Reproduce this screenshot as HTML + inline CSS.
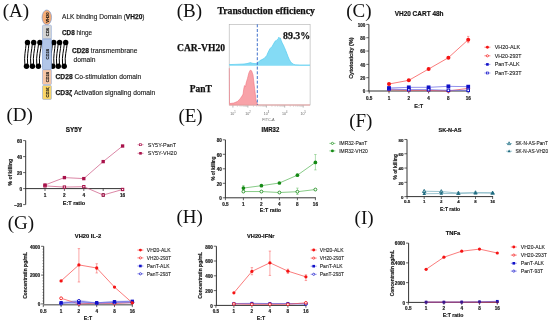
<!DOCTYPE html>
<html><head><meta charset="utf-8"><title>Figure</title>
<style>html,body{margin:0;padding:0;background:#fff;width:550px;height:322px;overflow:hidden}svg{display:block;filter:blur(0.25px)}</style>
</head><body>
<svg width="550" height="322" viewBox="0 0 550 322">
<rect width="550" height="322" fill="#fff"/>
<text x="2.7" y="17.3" font-family="'Liberation Serif', 'Times New Roman', serif" font-size="19" font-weight="normal" text-anchor="start" fill="#111" >(A)</text>
<text x="176.7" y="17" font-family="'Liberation Serif', 'Times New Roman', serif" font-size="19" font-weight="normal" text-anchor="start" fill="#111" >(B)</text>
<text x="346.2" y="17.2" font-family="'Liberation Serif', 'Times New Roman', serif" font-size="19" font-weight="normal" text-anchor="start" fill="#111" >(C)</text>
<text x="6.5" y="120.5" font-family="'Liberation Serif', 'Times New Roman', serif" font-size="19" font-weight="normal" text-anchor="start" fill="#111" >(D)</text>
<text x="178.39999999999998" y="121.9" font-family="'Liberation Serif', 'Times New Roman', serif" font-size="19" font-weight="normal" text-anchor="start" fill="#111" >(E)</text>
<text x="349.2" y="126.8" font-family="'Liberation Serif', 'Times New Roman', serif" font-size="19" font-weight="normal" text-anchor="start" fill="#111" >(F)</text>
<text x="7.8" y="228.6" font-family="'Liberation Serif', 'Times New Roman', serif" font-size="19" font-weight="normal" text-anchor="start" fill="#111" >(G)</text>
<text x="176.39999999999998" y="223.4" font-family="'Liberation Serif', 'Times New Roman', serif" font-size="19" font-weight="normal" text-anchor="start" fill="#111" >(H)</text>
<text x="354.59999999999997" y="223.6" font-family="'Liberation Serif', 'Times New Roman', serif" font-size="19" font-weight="normal" text-anchor="start" fill="#111" >(I)</text>
<path d="M26.10,44.0 C25.80,49.5 23.90,56.3 24.90,64.8" fill="none" stroke="#000" stroke-width="1.0"/>
<path d="M28.90,44.0 C28.60,49.5 26.70,56.3 27.70,64.8" fill="none" stroke="#000" stroke-width="1.0"/>
<path d="M32.30,44.0 C32.00,49.5 29.80,56.3 30.80,64.8" fill="none" stroke="#000" stroke-width="1.0"/>
<path d="M35.10,44.0 C34.80,49.5 32.60,56.3 33.60,64.8" fill="none" stroke="#000" stroke-width="1.0"/>
<path d="M38.50,44.0 C38.20,49.5 35.80,56.3 36.80,64.8" fill="none" stroke="#000" stroke-width="1.0"/>
<path d="M41.30,44.0 C41.00,49.5 38.60,56.3 39.60,64.8" fill="none" stroke="#000" stroke-width="1.0"/>
<path d="M52.40,44.0 C52.10,49.5 50.20,56.3 51.20,64.8" fill="none" stroke="#000" stroke-width="1.0"/>
<path d="M55.20,44.0 C54.90,49.5 53.00,56.3 54.00,64.8" fill="none" stroke="#000" stroke-width="1.0"/>
<path d="M58.20,44.0 C57.90,49.5 55.70,56.3 56.70,64.8" fill="none" stroke="#000" stroke-width="1.0"/>
<path d="M61.00,44.0 C60.70,49.5 58.50,56.3 59.50,64.8" fill="none" stroke="#000" stroke-width="1.0"/>
<path d="M64.30,44.0 C64.00,49.5 61.60,56.3 62.60,64.8" fill="none" stroke="#000" stroke-width="1.0"/>
<path d="M67.10,44.0 C66.80,49.5 64.40,56.3 65.40,64.8" fill="none" stroke="#000" stroke-width="1.0"/>
<circle cx="27.5" cy="42.5" r="2.7" fill="#000"/>
<circle cx="33.7" cy="42.5" r="2.7" fill="#000"/>
<circle cx="39.9" cy="42.5" r="2.7" fill="#000"/>
<circle cx="53.8" cy="42.5" r="2.7" fill="#000"/>
<circle cx="59.6" cy="42.5" r="2.7" fill="#000"/>
<circle cx="65.7" cy="42.5" r="2.7" fill="#000"/>
<circle cx="26.5" cy="66.3" r="2.7" fill="#000"/>
<circle cx="32.4" cy="66.3" r="2.7" fill="#000"/>
<circle cx="38.4" cy="66.3" r="2.7" fill="#000"/>
<circle cx="52.8" cy="66.3" r="2.7" fill="#000"/>
<circle cx="58.3" cy="66.3" r="2.7" fill="#000"/>
<circle cx="64.2" cy="66.3" r="2.7" fill="#000"/>
<ellipse cx="46.8" cy="17.4" rx="4.75" ry="7.4" fill="#F6AE78" stroke="#6F92D0" stroke-width="0.6"/>
<rect x="42.5" y="25.2" width="8.9" height="14" rx="1" fill="#D5D5D5" stroke="#8EA9D8" stroke-width="0.6"/>
<rect x="42.5" y="39" width="8.9" height="30.6" rx="0.8" fill="#B2C6E8" stroke="#7396D2" stroke-width="0.6"/>
<rect x="42.5" y="69.7" width="8.9" height="14.8" rx="1" fill="#F7C7A6" stroke="#8EA9D8" stroke-width="0.6"/>
<rect x="42.5" y="85.5" width="8.9" height="13.9" rx="1" fill="#FAD667" stroke="#8EA9D8" stroke-width="0.6"/>
<text transform="translate(47.1,17.6) rotate(-90)" font-family="'Liberation Sans', Arial, sans-serif" font-size="4.1" font-weight="bold" text-anchor="middle" dominant-baseline="central" fill="#111" stroke="#111" stroke-width="0.1">VH20</text>
<text transform="translate(47.1,32.2) rotate(-90)" font-family="'Liberation Sans', Arial, sans-serif" font-size="4.1" font-weight="bold" text-anchor="middle" dominant-baseline="central" fill="#111" stroke="#111" stroke-width="0.1">CD8</text>
<text transform="translate(47.1,54.3) rotate(-90)" font-family="'Liberation Sans', Arial, sans-serif" font-size="4.1" font-weight="bold" text-anchor="middle" dominant-baseline="central" fill="#111" stroke="#111" stroke-width="0.1">CD28</text>
<text transform="translate(47.1,77.1) rotate(-90)" font-family="'Liberation Sans', Arial, sans-serif" font-size="4.1" font-weight="bold" text-anchor="middle" dominant-baseline="central" fill="#111" stroke="#111" stroke-width="0.1">CD28</text>
<text transform="translate(47.1,92.4) rotate(-90)" font-family="'Liberation Sans', Arial, sans-serif" font-size="4.1" font-weight="bold" text-anchor="middle" dominant-baseline="central" fill="#111" stroke="#111" stroke-width="0.1">CD3ζ</text>
<text x="62" y="19.2" font-family="'Liberation Sans', Arial, sans-serif" font-size="7.3" font-weight="normal" text-anchor="start" fill="#151515" textLength="82.5" lengthAdjust="spacingAndGlyphs" stroke="#151515" stroke-width="0.12">ALK binding Domain (<tspan font-weight="bold" stroke="#111" stroke-width="0.25">VH20</tspan>)</text>
<text x="62" y="34.9" font-family="'Liberation Sans', Arial, sans-serif" font-size="7.3" font-weight="normal" text-anchor="start" fill="#151515" textLength="30" lengthAdjust="spacingAndGlyphs" stroke="#151515" stroke-width="0.12"><tspan font-weight="bold" stroke="#111" stroke-width="0.25">CD8</tspan> hinge</text>
<text x="72" y="53.4" font-family="'Liberation Sans', Arial, sans-serif" font-size="7.3" font-weight="normal" text-anchor="start" fill="#151515" textLength="65.5" lengthAdjust="spacingAndGlyphs" stroke="#151515" stroke-width="0.12"><tspan font-weight="bold" stroke="#111" stroke-width="0.25">CD28</tspan> transmembrane</text>
<text x="73.5" y="62.2" font-family="'Liberation Sans', Arial, sans-serif" font-size="7.3" font-weight="normal" text-anchor="start" fill="#151515" textLength="22" lengthAdjust="spacingAndGlyphs" stroke="#151515" stroke-width="0.12">domain</text>
<text x="55.5" y="78.5" font-family="'Liberation Sans', Arial, sans-serif" font-size="7.3" font-weight="normal" text-anchor="start" fill="#151515" textLength="85.7" lengthAdjust="spacingAndGlyphs" stroke="#151515" stroke-width="0.12"><tspan font-weight="bold" stroke="#111" stroke-width="0.25">CD28</tspan> Co-stimulation domain</text>
<text x="55.5" y="94.9" font-family="'Liberation Sans', Arial, sans-serif" font-size="7.3" font-weight="normal" text-anchor="start" fill="#151515" textLength="99.7" lengthAdjust="spacingAndGlyphs" stroke="#151515" stroke-width="0.12"><tspan font-weight="bold" stroke="#111" stroke-width="0.25">CD3ζ</tspan> Activation signaling domain</text>
<text x="217.5" y="14.2" font-family="'Liberation Serif', 'Times New Roman', serif" font-size="10.5" font-weight="bold" text-anchor="start" fill="#111" textLength="97.4" lengthAdjust="spacingAndGlyphs" stroke="#111" stroke-width="0.25">Transduction efficiency</text>
<text x="177" y="51.4" font-family="'Liberation Serif', 'Times New Roman', serif" font-size="10.1" font-weight="bold" text-anchor="start" fill="#111" textLength="48" lengthAdjust="spacingAndGlyphs" stroke="#111" stroke-width="0.25">CAR-VH20</text>
<text x="189.8" y="91.6" font-family="'Liberation Serif', 'Times New Roman', serif" font-size="10.1" font-weight="bold" text-anchor="start" fill="#111" textLength="22.1" lengthAdjust="spacingAndGlyphs" stroke="#111" stroke-width="0.25">PanT</text>
<rect x="229.2" y="24.3" width="80.9" height="80.7" fill="none" stroke="#b0b0b0" stroke-width="0.6"/>
<path d="M229.2,64.6 L235,64.4 L240,64.2 L244,64.0 L247,63.6 L249,63.0 L250.5,62.6 L252,63.2 L254,63.5 L256.8,63.7 L259.7,60.7 L262,59.6 L264.4,58.3 L265.6,56.8 L266.8,55.4 L268,52.5 L269.8,48.9 L271,47.6 L272.1,46.5 L273.5,44 L275.1,41.2 L276.3,40.5 L277.4,39.4 L278.3,38.6 L278.8,37.2 L279.5,38.2 L280.4,38.1 L281.2,40.5 L282.2,43 L283.4,45.2 L284.5,47.7 L285.7,50.5 L286.9,53.6 L288.1,56.8 L289.3,59.5 L290.5,61.6 L291.6,63 L293.4,64.2 L295.2,64.8 L300,65.0 L310,65.0 L310,65.7 L229.2,65.7 Z" fill="#84DBF5"/>
<polyline points="229.2,64.6 235,64.4 240,64.2 244,64.0 247,63.6 249,63.0 250.5,62.6 252,63.2 254,63.5 256.8,63.7 259.7,60.7 262,59.6 264.4,58.3 265.6,56.8 266.8,55.4 268,52.5 269.8,48.9 271,47.6 272.1,46.5 273.5,44 275.1,41.2 276.3,40.5 277.4,39.4 278.3,38.6 278.8,37.2 279.5,38.2 280.4,38.1 281.2,40.5 282.2,43 283.4,45.2 284.5,47.7 285.7,50.5 286.9,53.6 288.1,56.8 289.3,59.5 290.5,61.6 291.6,63 293.4,64.2 295.2,64.8 300,65.0 310,65.0" fill="none" stroke="#55CBEF" stroke-width="0.7"/>
<path d="M229.3,68.2 L229.5,103.6 L233.8,103 L237.3,101.6 L240,98.9 L242,96.1 L243.1,94.1 L243.7,89.3 L244.5,85.6 L245.5,86.6 L246.1,83.1 L247.5,78.4 L248.9,72.9 L250.2,70.2 L251.6,70.8 L253,74.9 L254.3,85.9 L255.3,94.1 L256,100.2 L257.1,103.6 L258.4,104.7 L229.3,104.9 Z" fill="#F8A2A8"/>
<polyline points="229.3,68.2 229.5,103.6 233.8,103 237.3,101.6 240,98.9 242,96.1 243.1,94.1 243.7,89.3 244.5,85.6 245.5,86.6 246.1,83.1 247.5,78.4 248.9,72.9 250.2,70.2 251.6,70.8 253,74.9 254.3,85.9 255.3,94.1 256,100.2 257.1,103.6 258.4,104.7" fill="none" stroke="#F07480" stroke-width="0.6"/>
<line x1="229.20" y1="105.00" x2="310.00" y2="105.00" stroke="#E88C8C" stroke-width="0.8" />
<line x1="257.30" y1="24.30" x2="257.30" y2="105.00" stroke="#3568C8" stroke-width="0.95" stroke-dasharray="3,1.7"/>
<text x="283.0" y="38.8" font-family="'Liberation Serif', 'Times New Roman', serif" font-size="10.2" font-weight="bold" text-anchor="start" fill="#111" textLength="27.2" lengthAdjust="spacingAndGlyphs" stroke="#111" stroke-width="0.25">89.3%</text>
<line x1="232.90" y1="105.60" x2="232.90" y2="107.60" stroke="#777" stroke-width="0.5" />
<text x="232.9" y="114.6" font-family="'Liberation Sans', Arial, sans-serif" font-size="3.6" text-anchor="middle" fill="#666">10<tspan font-size="2.6" dy="-1.6">1</tspan></text>
<line x1="247.90" y1="105.60" x2="247.90" y2="107.60" stroke="#777" stroke-width="0.5" />
<text x="247.9" y="114.6" font-family="'Liberation Sans', Arial, sans-serif" font-size="3.6" text-anchor="middle" fill="#666">10<tspan font-size="2.6" dy="-1.6">2</tspan></text>
<line x1="266.40" y1="105.60" x2="266.40" y2="107.60" stroke="#777" stroke-width="0.5" />
<text x="266.4" y="114.6" font-family="'Liberation Sans', Arial, sans-serif" font-size="3.6" text-anchor="middle" fill="#666">10<tspan font-size="2.6" dy="-1.6">3</tspan></text>
<line x1="284.70" y1="105.60" x2="284.70" y2="107.60" stroke="#777" stroke-width="0.5" />
<text x="284.7" y="114.6" font-family="'Liberation Sans', Arial, sans-serif" font-size="3.6" text-anchor="middle" fill="#666">10<tspan font-size="2.6" dy="-1.6">4</tspan></text>
<line x1="303.20" y1="105.60" x2="303.20" y2="107.60" stroke="#777" stroke-width="0.5" />
<text x="303.2" y="114.6" font-family="'Liberation Sans', Arial, sans-serif" font-size="3.6" text-anchor="middle" fill="#666">10<tspan font-size="2.6" dy="-1.6">5</tspan></text>
<line x1="237.42" y1="105.60" x2="237.42" y2="106.80" stroke="#999" stroke-width="0.35" />
<line x1="240.06" y1="105.60" x2="240.06" y2="106.80" stroke="#999" stroke-width="0.35" />
<line x1="241.93" y1="105.60" x2="241.93" y2="106.80" stroke="#999" stroke-width="0.35" />
<line x1="243.38" y1="105.60" x2="243.38" y2="106.80" stroke="#999" stroke-width="0.35" />
<line x1="244.57" y1="105.60" x2="244.57" y2="106.80" stroke="#999" stroke-width="0.35" />
<line x1="245.58" y1="105.60" x2="245.58" y2="106.80" stroke="#999" stroke-width="0.35" />
<line x1="246.45" y1="105.60" x2="246.45" y2="106.80" stroke="#999" stroke-width="0.35" />
<line x1="247.21" y1="105.60" x2="247.21" y2="106.80" stroke="#999" stroke-width="0.35" />
<line x1="253.47" y1="105.60" x2="253.47" y2="106.80" stroke="#999" stroke-width="0.35" />
<line x1="256.73" y1="105.60" x2="256.73" y2="106.80" stroke="#999" stroke-width="0.35" />
<line x1="259.04" y1="105.60" x2="259.04" y2="106.80" stroke="#999" stroke-width="0.35" />
<line x1="260.83" y1="105.60" x2="260.83" y2="106.80" stroke="#999" stroke-width="0.35" />
<line x1="262.30" y1="105.60" x2="262.30" y2="106.80" stroke="#999" stroke-width="0.35" />
<line x1="263.53" y1="105.60" x2="263.53" y2="106.80" stroke="#999" stroke-width="0.35" />
<line x1="264.61" y1="105.60" x2="264.61" y2="106.80" stroke="#999" stroke-width="0.35" />
<line x1="265.55" y1="105.60" x2="265.55" y2="106.80" stroke="#999" stroke-width="0.35" />
<line x1="271.91" y1="105.60" x2="271.91" y2="106.80" stroke="#999" stroke-width="0.35" />
<line x1="275.13" y1="105.60" x2="275.13" y2="106.80" stroke="#999" stroke-width="0.35" />
<line x1="277.42" y1="105.60" x2="277.42" y2="106.80" stroke="#999" stroke-width="0.35" />
<line x1="279.19" y1="105.60" x2="279.19" y2="106.80" stroke="#999" stroke-width="0.35" />
<line x1="280.64" y1="105.60" x2="280.64" y2="106.80" stroke="#999" stroke-width="0.35" />
<line x1="281.87" y1="105.60" x2="281.87" y2="106.80" stroke="#999" stroke-width="0.35" />
<line x1="282.93" y1="105.60" x2="282.93" y2="106.80" stroke="#999" stroke-width="0.35" />
<line x1="283.86" y1="105.60" x2="283.86" y2="106.80" stroke="#999" stroke-width="0.35" />
<line x1="290.27" y1="105.60" x2="290.27" y2="106.80" stroke="#999" stroke-width="0.35" />
<line x1="293.53" y1="105.60" x2="293.53" y2="106.80" stroke="#999" stroke-width="0.35" />
<line x1="295.84" y1="105.60" x2="295.84" y2="106.80" stroke="#999" stroke-width="0.35" />
<line x1="297.63" y1="105.60" x2="297.63" y2="106.80" stroke="#999" stroke-width="0.35" />
<line x1="299.10" y1="105.60" x2="299.10" y2="106.80" stroke="#999" stroke-width="0.35" />
<line x1="300.33" y1="105.60" x2="300.33" y2="106.80" stroke="#999" stroke-width="0.35" />
<line x1="301.41" y1="105.60" x2="301.41" y2="106.80" stroke="#999" stroke-width="0.35" />
<line x1="302.35" y1="105.60" x2="302.35" y2="106.80" stroke="#999" stroke-width="0.35" />
<text x="268.4" y="121.3" font-family="'Liberation Sans', Arial, sans-serif" font-size="3.8" font-weight="normal" text-anchor="middle" fill="#666" >FITC-A</text>
<text x="394.65" y="16.2" font-family="'Liberation Sans', Arial, sans-serif" font-size="6.7" font-weight="bold" text-anchor="start" fill="#111" textLength="48.9" lengthAdjust="spacingAndGlyphs"  stroke="#111" stroke-width="0.18">VH20 CART 48h</text>
<line x1="368.90" y1="24.40" x2="368.90" y2="91.00" stroke="#333" stroke-width="1.0" />
<line x1="366.30" y1="91.00" x2="368.90" y2="91.00" stroke="#333" stroke-width="0.75" />
<text x="365.4" y="93.35600000000001" font-family="'Liberation Sans', Arial, sans-serif" font-size="4.6" font-weight="bold" text-anchor="end" fill="#1a1a1a"  stroke="#1a1a1a" stroke-width="0.18">0</text>
<line x1="366.30" y1="77.68" x2="368.90" y2="77.68" stroke="#333" stroke-width="0.75" />
<text x="365.4" y="80.03600000000002" font-family="'Liberation Sans', Arial, sans-serif" font-size="4.6" font-weight="bold" text-anchor="end" fill="#1a1a1a"  stroke="#1a1a1a" stroke-width="0.18">20</text>
<line x1="366.30" y1="64.36" x2="368.90" y2="64.36" stroke="#333" stroke-width="0.75" />
<text x="365.4" y="66.71600000000001" font-family="'Liberation Sans', Arial, sans-serif" font-size="4.6" font-weight="bold" text-anchor="end" fill="#1a1a1a"  stroke="#1a1a1a" stroke-width="0.18">40</text>
<line x1="366.30" y1="51.04" x2="368.90" y2="51.04" stroke="#333" stroke-width="0.75" />
<text x="365.4" y="53.396" font-family="'Liberation Sans', Arial, sans-serif" font-size="4.6" font-weight="bold" text-anchor="end" fill="#1a1a1a"  stroke="#1a1a1a" stroke-width="0.18">60</text>
<line x1="366.30" y1="37.72" x2="368.90" y2="37.72" stroke="#333" stroke-width="0.75" />
<text x="365.4" y="40.076" font-family="'Liberation Sans', Arial, sans-serif" font-size="4.6" font-weight="bold" text-anchor="end" fill="#1a1a1a"  stroke="#1a1a1a" stroke-width="0.18">80</text>
<line x1="366.30" y1="24.40" x2="368.90" y2="24.40" stroke="#333" stroke-width="0.75" />
<text x="365.4" y="26.75599999999999" font-family="'Liberation Sans', Arial, sans-serif" font-size="4.6" font-weight="bold" text-anchor="end" fill="#1a1a1a"  stroke="#1a1a1a" stroke-width="0.18">100</text>
<line x1="368.40" y1="91.00" x2="468.70" y2="91.00" stroke="#333" stroke-width="1.0" />
<line x1="369.20" y1="91.00" x2="369.20" y2="93.40" stroke="#333" stroke-width="0.75" />
<text x="369.2" y="99.8" font-family="'Liberation Sans', Arial, sans-serif" font-size="4.6" font-weight="bold" text-anchor="middle" fill="#1a1a1a"  stroke="#1a1a1a" stroke-width="0.18">0.5</text>
<line x1="389.00" y1="91.00" x2="389.00" y2="93.40" stroke="#333" stroke-width="0.75" />
<text x="389.0" y="99.8" font-family="'Liberation Sans', Arial, sans-serif" font-size="4.6" font-weight="bold" text-anchor="middle" fill="#1a1a1a"  stroke="#1a1a1a" stroke-width="0.18">1</text>
<line x1="408.80" y1="91.00" x2="408.80" y2="93.40" stroke="#333" stroke-width="0.75" />
<text x="408.8" y="99.8" font-family="'Liberation Sans', Arial, sans-serif" font-size="4.6" font-weight="bold" text-anchor="middle" fill="#1a1a1a"  stroke="#1a1a1a" stroke-width="0.18">2</text>
<line x1="428.60" y1="91.00" x2="428.60" y2="93.40" stroke="#333" stroke-width="0.75" />
<text x="428.6" y="99.8" font-family="'Liberation Sans', Arial, sans-serif" font-size="4.6" font-weight="bold" text-anchor="middle" fill="#1a1a1a"  stroke="#1a1a1a" stroke-width="0.18">4</text>
<line x1="448.40" y1="91.00" x2="448.40" y2="93.40" stroke="#333" stroke-width="0.75" />
<text x="448.4" y="99.8" font-family="'Liberation Sans', Arial, sans-serif" font-size="4.6" font-weight="bold" text-anchor="middle" fill="#1a1a1a"  stroke="#1a1a1a" stroke-width="0.18">8</text>
<line x1="468.20" y1="91.00" x2="468.20" y2="93.40" stroke="#333" stroke-width="0.75" />
<text x="468.2" y="99.8" font-family="'Liberation Sans', Arial, sans-serif" font-size="4.6" font-weight="bold" text-anchor="middle" fill="#1a1a1a"  stroke="#1a1a1a" stroke-width="0.18">16</text>
<text transform="translate(351.3,58.1) rotate(-90)" x="0" y="0" font-family="'Liberation Sans', Arial, sans-serif" font-size="5.2" font-weight="bold" text-anchor="middle" dominant-baseline="central" fill="#1a1a1a" textLength="41.5" lengthAdjust="spacingAndGlyphs" stroke="#1a1a1a" stroke-width="0.18">Cytotoxicity (%)</text>
<text x="414.35" y="107.5" font-family="'Liberation Sans', Arial, sans-serif" font-size="6.0" font-weight="bold" text-anchor="start" fill="#1a1a1a" textLength="8.9" lengthAdjust="spacingAndGlyphs"  stroke="#1a1a1a" stroke-width="0.18">E:T</text>
<polyline points="389.00,89.67 408.80,90.33 428.60,90.33 448.40,91.00 468.20,88.34" fill="none" stroke="#F85050" stroke-width="0.75"/>
<circle cx="389.00" cy="89.67" r="1.43" fill="white" stroke="#F51414" stroke-width="0.85"/>
<circle cx="408.80" cy="90.33" r="1.43" fill="white" stroke="#F51414" stroke-width="0.85"/>
<circle cx="428.60" cy="90.33" r="1.43" fill="white" stroke="#F51414" stroke-width="0.85"/>
<circle cx="448.40" cy="91.00" r="1.43" fill="white" stroke="#F51414" stroke-width="0.85"/>
<circle cx="468.20" cy="88.34" r="1.43" fill="white" stroke="#F51414" stroke-width="0.85"/>
<polyline points="389.00,89.00 408.80,89.67 428.60,89.67 448.40,90.33 468.20,90.33" fill="none" stroke="#6B6BE6" stroke-width="0.75"/>
<rect x="387.70" y="87.70" width="2.60" height="2.60" fill="white" stroke="#1010C8" stroke-width="1.0"/>
<rect x="407.50" y="88.37" width="2.60" height="2.60" fill="white" stroke="#1010C8" stroke-width="1.0"/>
<rect x="427.30" y="88.37" width="2.60" height="2.60" fill="white" stroke="#1010C8" stroke-width="1.0"/>
<rect x="447.10" y="89.03" width="2.60" height="2.60" fill="white" stroke="#1010C8" stroke-width="1.0"/>
<rect x="466.90" y="89.03" width="2.60" height="2.60" fill="white" stroke="#1010C8" stroke-width="1.0"/>
<polyline points="389.00,88.00 408.80,87.34 428.60,87.34 448.40,86.34 468.20,86.67" fill="none" stroke="#6B6BE6" stroke-width="0.75"/>
<rect x="387.11" y="86.11" width="3.78" height="3.78" fill="#1010C8"/>
<rect x="406.91" y="85.45" width="3.78" height="3.78" fill="#1010C8"/>
<rect x="426.71" y="85.45" width="3.78" height="3.78" fill="#1010C8"/>
<rect x="446.51" y="84.45" width="3.78" height="3.78" fill="#1010C8"/>
<rect x="466.31" y="84.78" width="3.78" height="3.78" fill="#1010C8"/>
<polyline points="389.00,84.01 408.80,80.34 428.60,69.02 448.40,57.70 468.20,39.72" fill="none" stroke="#F85050" stroke-width="0.75"/>
<line x1="468.20" y1="42.71" x2="468.20" y2="36.39" stroke="#F85050" stroke-width="0.5" />
<line x1="467.00" y1="42.71" x2="469.40" y2="42.71" stroke="#F85050" stroke-width="0.5" />
<line x1="467.00" y1="36.39" x2="469.40" y2="36.39" stroke="#F85050" stroke-width="0.5" />
<circle cx="389.00" cy="84.01" r="2.00" fill="#F51414" stroke="#F51414" stroke-width="0"/>
<circle cx="408.80" cy="80.34" r="2.00" fill="#F51414" stroke="#F51414" stroke-width="0"/>
<circle cx="428.60" cy="69.02" r="2.00" fill="#F51414" stroke="#F51414" stroke-width="0"/>
<circle cx="448.40" cy="57.70" r="2.00" fill="#F51414" stroke="#F51414" stroke-width="0"/>
<circle cx="468.20" cy="39.72" r="2.00" fill="#F51414" stroke="#F51414" stroke-width="0"/>
<line x1="484.40" y1="47.20" x2="490.40" y2="47.20" stroke="#F85050" stroke-width="0.7" />
<circle cx="487.40" cy="47.20" r="1.45" fill="#F51414" stroke="#F51414" stroke-width="0"/>
<text x="494.7" y="49.14" font-family="'Liberation Sans', Arial, sans-serif" font-size="5.4" font-weight="normal" text-anchor="start" fill="#1c1c1c" textLength="25.5" lengthAdjust="spacingAndGlyphs" stroke="#1c1c1c" stroke-width="0.1">VH20-ALK</text>
<line x1="484.40" y1="55.80" x2="490.40" y2="55.80" stroke="#F85050" stroke-width="0.7" />
<circle cx="487.40" cy="55.80" r="1.10" fill="white" stroke="#F51414" stroke-width="0.7"/>
<text x="494.7" y="57.74" font-family="'Liberation Sans', Arial, sans-serif" font-size="5.4" font-weight="normal" text-anchor="start" fill="#1c1c1c" textLength="26.8" lengthAdjust="spacingAndGlyphs" stroke="#1c1c1c" stroke-width="0.1">VH20-293T</text>
<line x1="484.40" y1="64.40" x2="490.40" y2="64.40" stroke="#6B6BE6" stroke-width="0.7" />
<rect x="486.09" y="63.10" width="2.61" height="2.61" fill="#1010C8"/>
<text x="494.7" y="66.34" font-family="'Liberation Sans', Arial, sans-serif" font-size="5.4" font-weight="normal" text-anchor="start" fill="#1c1c1c" textLength="24.9" lengthAdjust="spacingAndGlyphs" stroke="#1c1c1c" stroke-width="0.1">PanT-ALK</text>
<line x1="484.40" y1="73.00" x2="490.40" y2="73.00" stroke="#6B6BE6" stroke-width="0.7" />
<rect x="486.44" y="72.05" width="1.91" height="1.91" fill="white" stroke="#1010C8" stroke-width="0.7"/>
<text x="494.7" y="74.94" font-family="'Liberation Sans', Arial, sans-serif" font-size="5.4" font-weight="normal" text-anchor="start" fill="#1c1c1c" textLength="26.8" lengthAdjust="spacingAndGlyphs" stroke="#1c1c1c" stroke-width="0.1">PanT-293T</text>
<text x="65.65" y="132.0" font-family="'Liberation Sans', Arial, sans-serif" font-size="7.1" font-weight="bold" text-anchor="start" fill="#111" textLength="16.5" lengthAdjust="spacingAndGlyphs"  stroke="#111" stroke-width="0.18">SY5Y</text>
<line x1="25.70" y1="140.60" x2="25.70" y2="204.60" stroke="#333" stroke-width="1.0" />
<line x1="23.10" y1="204.60" x2="25.70" y2="204.60" stroke="#333" stroke-width="0.75" />
<text x="22.2" y="206.992" font-family="'Liberation Sans', Arial, sans-serif" font-size="4.7" font-weight="bold" text-anchor="end" fill="#1a1a1a"  stroke="#1a1a1a" stroke-width="0.18">−20</text>
<line x1="23.10" y1="188.60" x2="25.70" y2="188.60" stroke="#333" stroke-width="0.75" />
<text x="22.2" y="190.992" font-family="'Liberation Sans', Arial, sans-serif" font-size="4.7" font-weight="bold" text-anchor="end" fill="#1a1a1a"  stroke="#1a1a1a" stroke-width="0.18">0</text>
<line x1="23.10" y1="172.60" x2="25.70" y2="172.60" stroke="#333" stroke-width="0.75" />
<text x="22.2" y="174.992" font-family="'Liberation Sans', Arial, sans-serif" font-size="4.7" font-weight="bold" text-anchor="end" fill="#1a1a1a"  stroke="#1a1a1a" stroke-width="0.18">20</text>
<line x1="23.10" y1="156.60" x2="25.70" y2="156.60" stroke="#333" stroke-width="0.75" />
<text x="22.2" y="158.992" font-family="'Liberation Sans', Arial, sans-serif" font-size="4.7" font-weight="bold" text-anchor="end" fill="#1a1a1a"  stroke="#1a1a1a" stroke-width="0.18">40</text>
<line x1="23.10" y1="140.60" x2="25.70" y2="140.60" stroke="#333" stroke-width="0.75" />
<text x="22.2" y="142.992" font-family="'Liberation Sans', Arial, sans-serif" font-size="4.7" font-weight="bold" text-anchor="end" fill="#1a1a1a"  stroke="#1a1a1a" stroke-width="0.18">60</text>
<line x1="25.20" y1="188.60" x2="123.10" y2="188.60" stroke="#333" stroke-width="1.0" />
<line x1="45.00" y1="188.60" x2="45.00" y2="191.00" stroke="#333" stroke-width="0.75" />
<text x="45.0" y="197.2" font-family="'Liberation Sans', Arial, sans-serif" font-size="4.7" font-weight="bold" text-anchor="middle" fill="#1a1a1a"  stroke="#1a1a1a" stroke-width="0.18">1</text>
<line x1="64.40" y1="188.60" x2="64.40" y2="191.00" stroke="#333" stroke-width="0.75" />
<text x="64.4" y="197.2" font-family="'Liberation Sans', Arial, sans-serif" font-size="4.7" font-weight="bold" text-anchor="middle" fill="#1a1a1a"  stroke="#1a1a1a" stroke-width="0.18">2</text>
<line x1="83.80" y1="188.60" x2="83.80" y2="191.00" stroke="#333" stroke-width="0.75" />
<text x="83.8" y="197.2" font-family="'Liberation Sans', Arial, sans-serif" font-size="4.7" font-weight="bold" text-anchor="middle" fill="#1a1a1a"  stroke="#1a1a1a" stroke-width="0.18">4</text>
<line x1="103.20" y1="188.60" x2="103.20" y2="191.00" stroke="#333" stroke-width="0.75" />
<text x="103.19999999999999" y="197.2" font-family="'Liberation Sans', Arial, sans-serif" font-size="4.7" font-weight="bold" text-anchor="middle" fill="#1a1a1a"  stroke="#1a1a1a" stroke-width="0.18">8</text>
<line x1="122.60" y1="188.60" x2="122.60" y2="191.00" stroke="#333" stroke-width="0.75" />
<text x="122.6" y="197.2" font-family="'Liberation Sans', Arial, sans-serif" font-size="4.7" font-weight="bold" text-anchor="middle" fill="#1a1a1a"  stroke="#1a1a1a" stroke-width="0.18">16</text>
<text transform="translate(10.1,172.2) rotate(-90)" x="0" y="0" font-family="'Liberation Sans', Arial, sans-serif" font-size="5.2" font-weight="bold" text-anchor="middle" dominant-baseline="central" fill="#222" textLength="26.4" lengthAdjust="spacingAndGlyphs" stroke="#222" stroke-width="0.18">% of killing</text>
<text x="62.75" y="204.5" font-family="'Liberation Sans', Arial, sans-serif" font-size="5.2" font-weight="bold" text-anchor="start" fill="#1a1a1a" textLength="22.3" lengthAdjust="spacingAndGlyphs"  stroke="#1a1a1a" stroke-width="0.18">E:T ratio</text>
<polyline points="45.00,185.88 64.40,187.08 83.80,186.68 103.20,195.00 122.60,189.48" fill="none" stroke="#CF5F88" stroke-width="0.75"/>
<rect x="43.86" y="184.74" width="2.28" height="2.28" fill="white" stroke="#A8124A" stroke-width="1.05"/>
<rect x="63.26" y="185.94" width="2.28" height="2.28" fill="white" stroke="#A8124A" stroke-width="1.05"/>
<rect x="82.66" y="185.54" width="2.28" height="2.28" fill="white" stroke="#A8124A" stroke-width="1.05"/>
<rect x="102.06" y="193.86" width="2.28" height="2.28" fill="white" stroke="#A8124A" stroke-width="1.05"/>
<rect x="121.46" y="188.34" width="2.28" height="2.28" fill="white" stroke="#A8124A" stroke-width="1.05"/>
<polyline points="45.00,185.00 64.40,177.60 83.80,178.60 103.20,161.60 122.60,146.00" fill="none" stroke="#CF5F88" stroke-width="0.75"/>
<rect x="43.34" y="183.34" width="3.33" height="3.33" fill="#A8124A"/>
<rect x="62.74" y="175.94" width="3.33" height="3.33" fill="#A8124A"/>
<rect x="82.13" y="176.94" width="3.33" height="3.33" fill="#A8124A"/>
<rect x="101.53" y="159.94" width="3.33" height="3.33" fill="#A8124A"/>
<rect x="120.93" y="144.34" width="3.33" height="3.33" fill="#A8124A"/>
<line x1="137.50" y1="144.70" x2="143.50" y2="144.70" stroke="#CF5F88" stroke-width="0.7" />
<rect x="139.54" y="143.74" width="1.91" height="1.91" fill="white" stroke="#A8124A" stroke-width="0.7"/>
<text x="147.8" y="146.72" font-family="'Liberation Sans', Arial, sans-serif" font-size="5.6" font-weight="normal" text-anchor="start" fill="#1c1c1c" textLength="28.4" lengthAdjust="spacingAndGlyphs" stroke="#1c1c1c" stroke-width="0.1">SY5Y-PanT</text>
<line x1="137.50" y1="153.30" x2="143.50" y2="153.30" stroke="#CF5F88" stroke-width="0.7" />
<rect x="139.19" y="152.00" width="2.61" height="2.61" fill="#A8124A"/>
<text x="147.8" y="155.32" font-family="'Liberation Sans', Arial, sans-serif" font-size="5.6" font-weight="normal" text-anchor="start" fill="#1c1c1c" textLength="28.9" lengthAdjust="spacingAndGlyphs" stroke="#1c1c1c" stroke-width="0.1">SY5Y-VH20</text>
<text x="261.55" y="131.8" font-family="'Liberation Sans', Arial, sans-serif" font-size="6.4" font-weight="bold" text-anchor="start" fill="#111" textLength="17.7" lengthAdjust="spacingAndGlyphs"  stroke="#111" stroke-width="0.18">IMR32</text>
<line x1="225.40" y1="139.80" x2="225.40" y2="197.80" stroke="#333" stroke-width="1.0" />
<line x1="222.80" y1="197.80" x2="225.40" y2="197.80" stroke="#333" stroke-width="0.75" />
<text x="221.9" y="200.156" font-family="'Liberation Sans', Arial, sans-serif" font-size="4.6" font-weight="bold" text-anchor="end" fill="#1a1a1a"  stroke="#1a1a1a" stroke-width="0.18">0</text>
<line x1="222.80" y1="183.30" x2="225.40" y2="183.30" stroke="#333" stroke-width="0.75" />
<text x="221.9" y="185.656" font-family="'Liberation Sans', Arial, sans-serif" font-size="4.6" font-weight="bold" text-anchor="end" fill="#1a1a1a"  stroke="#1a1a1a" stroke-width="0.18">20</text>
<line x1="222.80" y1="168.80" x2="225.40" y2="168.80" stroke="#333" stroke-width="0.75" />
<text x="221.9" y="171.156" font-family="'Liberation Sans', Arial, sans-serif" font-size="4.6" font-weight="bold" text-anchor="end" fill="#1a1a1a"  stroke="#1a1a1a" stroke-width="0.18">40</text>
<line x1="222.80" y1="154.30" x2="225.40" y2="154.30" stroke="#333" stroke-width="0.75" />
<text x="221.9" y="156.656" font-family="'Liberation Sans', Arial, sans-serif" font-size="4.6" font-weight="bold" text-anchor="end" fill="#1a1a1a"  stroke="#1a1a1a" stroke-width="0.18">60</text>
<line x1="222.80" y1="139.80" x2="225.40" y2="139.80" stroke="#333" stroke-width="0.75" />
<text x="221.9" y="142.156" font-family="'Liberation Sans', Arial, sans-serif" font-size="4.6" font-weight="bold" text-anchor="end" fill="#1a1a1a"  stroke="#1a1a1a" stroke-width="0.18">80</text>
<line x1="224.90" y1="197.80" x2="315.90" y2="197.80" stroke="#333" stroke-width="1.0" />
<line x1="225.40" y1="197.80" x2="225.40" y2="200.20" stroke="#333" stroke-width="0.75" />
<text x="225.4" y="206.1" font-family="'Liberation Sans', Arial, sans-serif" font-size="4.6" font-weight="bold" text-anchor="middle" fill="#1a1a1a"  stroke="#1a1a1a" stroke-width="0.18">0.5</text>
<line x1="243.40" y1="197.80" x2="243.40" y2="200.20" stroke="#333" stroke-width="0.75" />
<text x="243.4" y="206.1" font-family="'Liberation Sans', Arial, sans-serif" font-size="4.6" font-weight="bold" text-anchor="middle" fill="#1a1a1a"  stroke="#1a1a1a" stroke-width="0.18">1</text>
<line x1="261.40" y1="197.80" x2="261.40" y2="200.20" stroke="#333" stroke-width="0.75" />
<text x="261.4" y="206.1" font-family="'Liberation Sans', Arial, sans-serif" font-size="4.6" font-weight="bold" text-anchor="middle" fill="#1a1a1a"  stroke="#1a1a1a" stroke-width="0.18">2</text>
<line x1="279.40" y1="197.80" x2="279.40" y2="200.20" stroke="#333" stroke-width="0.75" />
<text x="279.4" y="206.1" font-family="'Liberation Sans', Arial, sans-serif" font-size="4.6" font-weight="bold" text-anchor="middle" fill="#1a1a1a"  stroke="#1a1a1a" stroke-width="0.18">4</text>
<line x1="297.40" y1="197.80" x2="297.40" y2="200.20" stroke="#333" stroke-width="0.75" />
<text x="297.4" y="206.1" font-family="'Liberation Sans', Arial, sans-serif" font-size="4.6" font-weight="bold" text-anchor="middle" fill="#1a1a1a"  stroke="#1a1a1a" stroke-width="0.18">8</text>
<line x1="315.40" y1="197.80" x2="315.40" y2="200.20" stroke="#333" stroke-width="0.75" />
<text x="315.4" y="206.1" font-family="'Liberation Sans', Arial, sans-serif" font-size="4.6" font-weight="bold" text-anchor="middle" fill="#1a1a1a"  stroke="#1a1a1a" stroke-width="0.18">16</text>
<text transform="translate(212.5,168.5) rotate(-90)" x="0" y="0" font-family="'Liberation Sans', Arial, sans-serif" font-size="5.0" font-weight="bold" text-anchor="middle" dominant-baseline="central" fill="#222" textLength="24.2" lengthAdjust="spacingAndGlyphs" stroke="#222" stroke-width="0.18">% of killing</text>
<text x="259.85" y="211.9" font-family="'Liberation Sans', Arial, sans-serif" font-size="5.3" font-weight="bold" text-anchor="start" fill="#1a1a1a" textLength="21.2" lengthAdjust="spacingAndGlyphs"  stroke="#1a1a1a" stroke-width="0.18">E:T ratio</text>
<polyline points="243.40,191.56 261.40,191.56 279.40,192.51 297.40,191.71 315.40,189.54" fill="none" stroke="#5FBA5F" stroke-width="0.75"/>
<line x1="297.40" y1="194.47" x2="297.40" y2="188.09" stroke="#5FBA5F" stroke-width="0.5" />
<line x1="296.20" y1="194.47" x2="298.60" y2="194.47" stroke="#5FBA5F" stroke-width="0.5" />
<line x1="296.20" y1="188.09" x2="298.60" y2="188.09" stroke="#5FBA5F" stroke-width="0.5" />
<circle cx="243.40" cy="191.56" r="1.43" fill="white" stroke="#168A16" stroke-width="0.85"/>
<circle cx="261.40" cy="191.56" r="1.43" fill="white" stroke="#168A16" stroke-width="0.85"/>
<circle cx="279.40" cy="192.51" r="1.43" fill="white" stroke="#168A16" stroke-width="0.85"/>
<circle cx="297.40" cy="191.71" r="1.43" fill="white" stroke="#168A16" stroke-width="0.85"/>
<circle cx="315.40" cy="189.54" r="1.43" fill="white" stroke="#168A16" stroke-width="0.85"/>
<polyline points="243.40,188.09 261.40,185.69 279.40,183.01 297.40,175.18 315.40,162.42" fill="none" stroke="#5FBA5F" stroke-width="0.75"/>
<line x1="315.40" y1="169.89" x2="315.40" y2="154.52" stroke="#5FBA5F" stroke-width="0.5" />
<line x1="314.20" y1="169.89" x2="316.60" y2="169.89" stroke="#5FBA5F" stroke-width="0.5" />
<line x1="314.20" y1="154.52" x2="316.60" y2="154.52" stroke="#5FBA5F" stroke-width="0.5" />
<line x1="243.40" y1="189.83" x2="243.40" y2="185.48" stroke="#5FBA5F" stroke-width="0.5" />
<line x1="242.20" y1="189.83" x2="244.60" y2="189.83" stroke="#5FBA5F" stroke-width="0.5" />
<line x1="242.20" y1="185.48" x2="244.60" y2="185.48" stroke="#5FBA5F" stroke-width="0.5" />
<circle cx="243.40" cy="188.09" r="1.85" fill="#168A16" stroke="#168A16" stroke-width="0"/>
<circle cx="261.40" cy="185.69" r="1.85" fill="#168A16" stroke="#168A16" stroke-width="0"/>
<circle cx="279.40" cy="183.01" r="1.85" fill="#168A16" stroke="#168A16" stroke-width="0"/>
<circle cx="297.40" cy="175.18" r="1.85" fill="#168A16" stroke="#168A16" stroke-width="0"/>
<circle cx="315.40" cy="162.42" r="1.85" fill="#168A16" stroke="#168A16" stroke-width="0"/>
<line x1="329.40" y1="143.40" x2="335.40" y2="143.40" stroke="#5FBA5F" stroke-width="0.7" />
<circle cx="332.40" cy="143.40" r="1.10" fill="white" stroke="#168A16" stroke-width="0.7"/>
<text x="339.2" y="145.16" font-family="'Liberation Sans', Arial, sans-serif" font-size="4.9" font-weight="normal" text-anchor="start" fill="#1c1c1c" textLength="28.1" lengthAdjust="spacingAndGlyphs" stroke="#1c1c1c" stroke-width="0.1">IMR32-PanT</text>
<line x1="329.40" y1="150.90" x2="335.40" y2="150.90" stroke="#5FBA5F" stroke-width="0.7" />
<circle cx="332.40" cy="150.90" r="1.45" fill="#168A16" stroke="#168A16" stroke-width="0"/>
<text x="339.2" y="152.66" font-family="'Liberation Sans', Arial, sans-serif" font-size="4.9" font-weight="normal" text-anchor="start" fill="#1c1c1c" textLength="28.5" lengthAdjust="spacingAndGlyphs" stroke="#1c1c1c" stroke-width="0.1">IMR32-VH20</text>
<text x="438.45" y="131.8" font-family="'Liberation Sans', Arial, sans-serif" font-size="5.6" font-weight="bold" text-anchor="start" fill="#111" textLength="23.1" lengthAdjust="spacingAndGlyphs"  stroke="#111" stroke-width="0.18">SK-N-AS</text>
<line x1="407.00" y1="139.48" x2="407.00" y2="196.60" stroke="#333" stroke-width="1.0" />
<line x1="404.40" y1="196.60" x2="407.00" y2="196.60" stroke="#333" stroke-width="0.75" />
<text x="403.5" y="198.884" font-family="'Liberation Sans', Arial, sans-serif" font-size="4.4" font-weight="bold" text-anchor="end" fill="#1a1a1a"  stroke="#1a1a1a" stroke-width="0.18">0</text>
<line x1="404.40" y1="182.32" x2="407.00" y2="182.32" stroke="#333" stroke-width="0.75" />
<text x="403.5" y="184.60399999999998" font-family="'Liberation Sans', Arial, sans-serif" font-size="4.4" font-weight="bold" text-anchor="end" fill="#1a1a1a"  stroke="#1a1a1a" stroke-width="0.18">20</text>
<line x1="404.40" y1="168.04" x2="407.00" y2="168.04" stroke="#333" stroke-width="0.75" />
<text x="403.5" y="170.32399999999998" font-family="'Liberation Sans', Arial, sans-serif" font-size="4.4" font-weight="bold" text-anchor="end" fill="#1a1a1a"  stroke="#1a1a1a" stroke-width="0.18">40</text>
<line x1="404.40" y1="153.76" x2="407.00" y2="153.76" stroke="#333" stroke-width="0.75" />
<text x="403.5" y="156.04399999999998" font-family="'Liberation Sans', Arial, sans-serif" font-size="4.4" font-weight="bold" text-anchor="end" fill="#1a1a1a"  stroke="#1a1a1a" stroke-width="0.18">60</text>
<line x1="404.40" y1="139.48" x2="407.00" y2="139.48" stroke="#333" stroke-width="0.75" />
<text x="403.5" y="141.76399999999998" font-family="'Liberation Sans', Arial, sans-serif" font-size="4.4" font-weight="bold" text-anchor="end" fill="#1a1a1a"  stroke="#1a1a1a" stroke-width="0.18">80</text>
<line x1="406.50" y1="196.60" x2="493.10" y2="196.60" stroke="#333" stroke-width="1.0" />
<line x1="407.10" y1="196.60" x2="407.10" y2="199.00" stroke="#333" stroke-width="0.75" />
<text x="407.09999999999997" y="202.6" font-family="'Liberation Sans', Arial, sans-serif" font-size="4.4" font-weight="bold" text-anchor="middle" fill="#1a1a1a"  stroke="#1a1a1a" stroke-width="0.18">0.5</text>
<line x1="424.20" y1="196.60" x2="424.20" y2="199.00" stroke="#333" stroke-width="0.75" />
<text x="424.2" y="202.6" font-family="'Liberation Sans', Arial, sans-serif" font-size="4.4" font-weight="bold" text-anchor="middle" fill="#1a1a1a"  stroke="#1a1a1a" stroke-width="0.18">1</text>
<line x1="441.30" y1="196.60" x2="441.30" y2="199.00" stroke="#333" stroke-width="0.75" />
<text x="441.3" y="202.6" font-family="'Liberation Sans', Arial, sans-serif" font-size="4.4" font-weight="bold" text-anchor="middle" fill="#1a1a1a"  stroke="#1a1a1a" stroke-width="0.18">2</text>
<line x1="458.40" y1="196.60" x2="458.40" y2="199.00" stroke="#333" stroke-width="0.75" />
<text x="458.4" y="202.6" font-family="'Liberation Sans', Arial, sans-serif" font-size="4.4" font-weight="bold" text-anchor="middle" fill="#1a1a1a"  stroke="#1a1a1a" stroke-width="0.18">4</text>
<line x1="475.50" y1="196.60" x2="475.50" y2="199.00" stroke="#333" stroke-width="0.75" />
<text x="475.5" y="202.6" font-family="'Liberation Sans', Arial, sans-serif" font-size="4.4" font-weight="bold" text-anchor="middle" fill="#1a1a1a"  stroke="#1a1a1a" stroke-width="0.18">8</text>
<line x1="492.60" y1="196.60" x2="492.60" y2="199.00" stroke="#333" stroke-width="0.75" />
<text x="492.6" y="202.6" font-family="'Liberation Sans', Arial, sans-serif" font-size="4.4" font-weight="bold" text-anchor="middle" fill="#1a1a1a"  stroke="#1a1a1a" stroke-width="0.18">16</text>
<text transform="translate(395.7,166.8) rotate(-90)" x="0" y="0" font-family="'Liberation Sans', Arial, sans-serif" font-size="4.6" font-weight="bold" text-anchor="middle" dominant-baseline="central" fill="#222" textLength="25.2" lengthAdjust="spacingAndGlyphs" stroke="#222" stroke-width="0.18">% of killing</text>
<text x="439.95" y="210.7" font-family="'Liberation Sans', Arial, sans-serif" font-size="4.9" font-weight="bold" text-anchor="start" fill="#1a1a1a" textLength="20.1" lengthAdjust="spacingAndGlyphs"  stroke="#1a1a1a" stroke-width="0.18">E:T ratio</text>
<polyline points="424.20,191.25 441.30,191.53 458.40,193.10 475.50,192.67 492.60,193.03" fill="none" stroke="#7DB3C2" stroke-width="0.75"/>
<polygon points="424.20,189.33 425.96,192.53 422.44,192.53" fill="#9cc4cf" stroke="#1F6B80" stroke-width="0.85"/>
<polygon points="441.30,189.61 443.06,192.81 439.54,192.81" fill="#9cc4cf" stroke="#1F6B80" stroke-width="0.85"/>
<polygon points="458.40,191.18 460.16,194.38 456.64,194.38" fill="#9cc4cf" stroke="#1F6B80" stroke-width="0.85"/>
<polygon points="475.50,190.75 477.26,193.95 473.74,193.95" fill="#9cc4cf" stroke="#1F6B80" stroke-width="0.85"/>
<polygon points="492.60,191.11 494.36,194.31 490.84,194.31" fill="#9cc4cf" stroke="#1F6B80" stroke-width="0.85"/>
<polyline points="424.20,193.74 441.30,193.53 458.40,193.39 475.50,192.89 492.60,192.82" fill="none" stroke="#7DB3C2" stroke-width="0.75"/>
<polygon points="424.20,191.82 425.96,195.02 422.44,195.02" fill="#1F6B80"/>
<polygon points="441.30,191.61 443.06,194.81 439.54,194.81" fill="#1F6B80"/>
<polygon points="458.40,191.47 460.16,194.67 456.64,194.67" fill="#1F6B80"/>
<polygon points="475.50,190.97 477.26,194.17 473.74,194.17" fill="#1F6B80"/>
<polygon points="492.60,190.90 494.36,194.10 490.84,194.10" fill="#1F6B80"/>
<line x1="506.10" y1="143.50" x2="512.10" y2="143.50" stroke="#7DB3C2" stroke-width="0.7" />
<polygon points="509.10,141.76 510.70,144.66 507.50,144.66" fill="#9cc4cf" stroke="#1F6B80" stroke-width="0.7"/>
<text x="515.4" y="145.19" font-family="'Liberation Sans', Arial, sans-serif" font-size="4.7" font-weight="normal" text-anchor="start" fill="#1c1c1c" textLength="32.5" lengthAdjust="spacingAndGlyphs" stroke="#1c1c1c" stroke-width="0.1">SK-N-AS-PanT</text>
<line x1="506.10" y1="151.20" x2="512.10" y2="151.20" stroke="#7DB3C2" stroke-width="0.7" />
<polygon points="509.10,149.46 510.70,152.36 507.50,152.36" fill="#1F6B80"/>
<text x="515.4" y="152.89" font-family="'Liberation Sans', Arial, sans-serif" font-size="4.7" font-weight="normal" text-anchor="start" fill="#1c1c1c" textLength="32.7" lengthAdjust="spacingAndGlyphs" stroke="#1c1c1c" stroke-width="0.1">SK-N-AS-VH20</text>
<text x="74.85" y="238.2" font-family="'Liberation Sans', Arial, sans-serif" font-size="5.9" font-weight="bold" text-anchor="start" fill="#111" textLength="26.3" lengthAdjust="spacingAndGlyphs"  stroke="#111" stroke-width="0.18">VH20 IL-2</text>
<line x1="42.40" y1="301.02" x2="43.70" y2="301.02" stroke="#333" stroke-width="0.45" />
<line x1="42.40" y1="298.14" x2="43.70" y2="298.14" stroke="#333" stroke-width="0.45" />
<line x1="42.40" y1="295.26" x2="43.70" y2="295.26" stroke="#333" stroke-width="0.45" />
<line x1="42.40" y1="292.38" x2="43.70" y2="292.38" stroke="#333" stroke-width="0.45" />
<line x1="42.40" y1="289.50" x2="43.70" y2="289.50" stroke="#333" stroke-width="0.45" />
<line x1="42.40" y1="286.62" x2="43.70" y2="286.62" stroke="#333" stroke-width="0.45" />
<line x1="42.40" y1="283.74" x2="43.70" y2="283.74" stroke="#333" stroke-width="0.45" />
<line x1="42.40" y1="280.86" x2="43.70" y2="280.86" stroke="#333" stroke-width="0.45" />
<line x1="42.40" y1="277.98" x2="43.70" y2="277.98" stroke="#333" stroke-width="0.45" />
<line x1="42.40" y1="272.22" x2="43.70" y2="272.22" stroke="#333" stroke-width="0.45" />
<line x1="42.40" y1="269.34" x2="43.70" y2="269.34" stroke="#333" stroke-width="0.45" />
<line x1="42.40" y1="266.46" x2="43.70" y2="266.46" stroke="#333" stroke-width="0.45" />
<line x1="42.40" y1="263.58" x2="43.70" y2="263.58" stroke="#333" stroke-width="0.45" />
<line x1="42.40" y1="260.70" x2="43.70" y2="260.70" stroke="#333" stroke-width="0.45" />
<line x1="42.40" y1="257.82" x2="43.70" y2="257.82" stroke="#333" stroke-width="0.45" />
<line x1="42.40" y1="254.94" x2="43.70" y2="254.94" stroke="#333" stroke-width="0.45" />
<line x1="42.40" y1="252.06" x2="43.70" y2="252.06" stroke="#333" stroke-width="0.45" />
<line x1="42.40" y1="249.18" x2="43.70" y2="249.18" stroke="#333" stroke-width="0.45" />
<line x1="43.70" y1="246.30" x2="43.70" y2="303.90" stroke="#333" stroke-width="1.0" />
<line x1="41.10" y1="303.90" x2="43.70" y2="303.90" stroke="#333" stroke-width="0.75" />
<text x="40.2" y="306.256" font-family="'Liberation Sans', Arial, sans-serif" font-size="4.6" font-weight="bold" text-anchor="end" fill="#1a1a1a"  stroke="#1a1a1a" stroke-width="0.18">0</text>
<line x1="41.10" y1="275.10" x2="43.70" y2="275.10" stroke="#333" stroke-width="0.75" />
<text x="40.2" y="277.45599999999996" font-family="'Liberation Sans', Arial, sans-serif" font-size="4.6" font-weight="bold" text-anchor="end" fill="#1a1a1a"  stroke="#1a1a1a" stroke-width="0.18">2000</text>
<line x1="41.10" y1="246.30" x2="43.70" y2="246.30" stroke="#333" stroke-width="0.75" />
<text x="40.2" y="248.65599999999998" font-family="'Liberation Sans', Arial, sans-serif" font-size="4.6" font-weight="bold" text-anchor="end" fill="#1a1a1a"  stroke="#1a1a1a" stroke-width="0.18">4000</text>
<line x1="43.20" y1="304.70" x2="132.80" y2="304.70" stroke="#808080" stroke-width="1.4" />
<line x1="43.30" y1="304.70" x2="43.30" y2="307.10" stroke="#333" stroke-width="0.75" />
<text x="43.3" y="313.0" font-family="'Liberation Sans', Arial, sans-serif" font-size="4.6" font-weight="bold" text-anchor="middle" fill="#1a1a1a"  stroke="#1a1a1a" stroke-width="0.18">0.5</text>
<line x1="61.10" y1="304.70" x2="61.10" y2="307.10" stroke="#333" stroke-width="0.75" />
<text x="61.1" y="313.0" font-family="'Liberation Sans', Arial, sans-serif" font-size="4.6" font-weight="bold" text-anchor="middle" fill="#1a1a1a"  stroke="#1a1a1a" stroke-width="0.18">1</text>
<line x1="78.90" y1="304.70" x2="78.90" y2="307.10" stroke="#333" stroke-width="0.75" />
<text x="78.9" y="313.0" font-family="'Liberation Sans', Arial, sans-serif" font-size="4.6" font-weight="bold" text-anchor="middle" fill="#1a1a1a"  stroke="#1a1a1a" stroke-width="0.18">2</text>
<line x1="96.70" y1="304.70" x2="96.70" y2="307.10" stroke="#333" stroke-width="0.75" />
<text x="96.7" y="313.0" font-family="'Liberation Sans', Arial, sans-serif" font-size="4.6" font-weight="bold" text-anchor="middle" fill="#1a1a1a"  stroke="#1a1a1a" stroke-width="0.18">4</text>
<line x1="114.50" y1="304.70" x2="114.50" y2="307.10" stroke="#333" stroke-width="0.75" />
<text x="114.5" y="313.0" font-family="'Liberation Sans', Arial, sans-serif" font-size="4.6" font-weight="bold" text-anchor="middle" fill="#1a1a1a"  stroke="#1a1a1a" stroke-width="0.18">8</text>
<line x1="132.30" y1="304.70" x2="132.30" y2="307.10" stroke="#333" stroke-width="0.75" />
<text x="132.3" y="313.0" font-family="'Liberation Sans', Arial, sans-serif" font-size="4.6" font-weight="bold" text-anchor="middle" fill="#1a1a1a"  stroke="#1a1a1a" stroke-width="0.18">16</text>
<text transform="translate(25.4,275.4) rotate(-90)" x="0" y="0" font-family="'Liberation Sans', Arial, sans-serif" font-size="5.0" font-weight="bold" text-anchor="middle" dominant-baseline="central" fill="#222" textLength="46.7" lengthAdjust="spacingAndGlyphs" stroke="#222" stroke-width="0.18">Concentratin pg/mL</text>
<text x="83.85" y="319.7" font-family="'Liberation Sans', Arial, sans-serif" font-size="5.2" font-weight="bold" text-anchor="start" fill="#1a1a1a" textLength="8.3" lengthAdjust="spacingAndGlyphs"  stroke="#1a1a1a" stroke-width="0.18">E:T</text>
<polygon points="61.1,301.73999999999995 78.9,299.58 96.7,302.17199999999997 114.5,300.73199999999997 132.3,300.29999999999995 132.3,303.9 61.1,303.9" fill="#D8D8F0"/>
<polyline points="61.10,298.28 78.90,303.90 96.70,303.18 114.50,303.47 132.30,302.46" fill="none" stroke="#F85050" stroke-width="0.75"/>
<circle cx="61.10" cy="298.28" r="1.43" fill="white" stroke="#F51414" stroke-width="0.85"/>
<circle cx="78.90" cy="303.90" r="1.43" fill="white" stroke="#F51414" stroke-width="0.85"/>
<circle cx="96.70" cy="303.18" r="1.43" fill="white" stroke="#F51414" stroke-width="0.85"/>
<circle cx="114.50" cy="303.47" r="1.43" fill="white" stroke="#F51414" stroke-width="0.85"/>
<circle cx="132.30" cy="302.46" r="1.43" fill="white" stroke="#F51414" stroke-width="0.85"/>
<polyline points="61.10,303.47 78.90,301.02 96.70,303.18 114.50,302.46 132.30,302.17" fill="none" stroke="#6B6BE6" stroke-width="0.75"/>
<circle cx="61.10" cy="303.47" r="1.50" fill="white" stroke="#1010C8" stroke-width="1.0"/>
<circle cx="78.90" cy="301.02" r="1.50" fill="white" stroke="#1010C8" stroke-width="1.0"/>
<circle cx="96.70" cy="303.18" r="1.50" fill="white" stroke="#1010C8" stroke-width="1.0"/>
<circle cx="114.50" cy="302.46" r="1.50" fill="white" stroke="#1010C8" stroke-width="1.0"/>
<circle cx="132.30" cy="302.17" r="1.50" fill="white" stroke="#1010C8" stroke-width="1.0"/>
<polyline points="61.10,302.75 78.90,302.75 96.70,302.75 114.50,301.74 132.30,301.31" fill="none" stroke="#6B6BE6" stroke-width="0.75"/>
<rect x="59.44" y="301.08" width="3.33" height="3.33" fill="#1010C8"/>
<rect x="77.23" y="301.08" width="3.33" height="3.33" fill="#1010C8"/>
<rect x="95.03" y="301.08" width="3.33" height="3.33" fill="#1010C8"/>
<rect x="112.83" y="300.07" width="3.33" height="3.33" fill="#1010C8"/>
<rect x="130.64" y="299.64" width="3.33" height="3.33" fill="#1010C8"/>
<polyline points="61.10,280.90 78.90,264.90 96.70,268.00 114.50,287.10 132.30,302.81" fill="none" stroke="#F85050" stroke-width="0.75"/>
<line x1="78.90" y1="282.01" x2="78.90" y2="248.60" stroke="#F85050" stroke-width="0.5" />
<line x1="77.70" y1="282.01" x2="80.10" y2="282.01" stroke="#F85050" stroke-width="0.5" />
<line x1="77.70" y1="248.60" x2="80.10" y2="248.60" stroke="#F85050" stroke-width="0.5" />
<line x1="96.70" y1="272.94" x2="96.70" y2="263.72" stroke="#F85050" stroke-width="0.5" />
<line x1="95.50" y1="272.94" x2="97.90" y2="272.94" stroke="#F85050" stroke-width="0.5" />
<line x1="95.50" y1="263.72" x2="97.90" y2="263.72" stroke="#F85050" stroke-width="0.5" />
<circle cx="61.10" cy="280.90" r="1.65" fill="#F51414" stroke="#F51414" stroke-width="0"/>
<circle cx="78.90" cy="264.90" r="1.65" fill="#F51414" stroke="#F51414" stroke-width="0"/>
<circle cx="96.70" cy="268.00" r="1.65" fill="#F51414" stroke="#F51414" stroke-width="0"/>
<circle cx="114.50" cy="287.10" r="1.65" fill="#F51414" stroke="#F51414" stroke-width="0"/>
<circle cx="132.30" cy="302.81" r="1.65" fill="#F51414" stroke="#F51414" stroke-width="0"/>
<line x1="137.40" y1="250.10" x2="143.40" y2="250.10" stroke="#F85050" stroke-width="0.7" />
<circle cx="140.40" cy="250.10" r="1.45" fill="#F51414" stroke="#F51414" stroke-width="0"/>
<text x="146.8" y="251.94" font-family="'Liberation Sans', Arial, sans-serif" font-size="5.1" font-weight="normal" text-anchor="start" fill="#1c1c1c" textLength="23.7" lengthAdjust="spacingAndGlyphs" stroke="#1c1c1c" stroke-width="0.1">VH20-ALK</text>
<line x1="137.40" y1="257.90" x2="143.40" y2="257.90" stroke="#F85050" stroke-width="0.7" />
<circle cx="140.40" cy="257.90" r="1.10" fill="white" stroke="#F51414" stroke-width="0.7"/>
<text x="146.8" y="259.74" font-family="'Liberation Sans', Arial, sans-serif" font-size="5.1" font-weight="normal" text-anchor="start" fill="#1c1c1c" textLength="24.3" lengthAdjust="spacingAndGlyphs" stroke="#1c1c1c" stroke-width="0.1">VH20-293T</text>
<line x1="137.40" y1="266.00" x2="143.40" y2="266.00" stroke="#6B6BE6" stroke-width="0.7" />
<rect x="139.09" y="264.69" width="2.61" height="2.61" fill="#1010C8"/>
<text x="146.8" y="267.84" font-family="'Liberation Sans', Arial, sans-serif" font-size="5.1" font-weight="normal" text-anchor="start" fill="#1c1c1c" textLength="22.7" lengthAdjust="spacingAndGlyphs" stroke="#1c1c1c" stroke-width="0.1">PanT-ALK</text>
<line x1="137.40" y1="273.80" x2="143.40" y2="273.80" stroke="#6B6BE6" stroke-width="0.7" />
<circle cx="140.40" cy="273.80" r="1.10" fill="white" stroke="#1010C8" stroke-width="0.7"/>
<text x="146.8" y="275.64" font-family="'Liberation Sans', Arial, sans-serif" font-size="5.1" font-weight="normal" text-anchor="start" fill="#1c1c1c" textLength="24.3" lengthAdjust="spacingAndGlyphs" stroke="#1c1c1c" stroke-width="0.1">PanT-293T</text>
<text x="247.05" y="237.8" font-family="'Liberation Sans', Arial, sans-serif" font-size="6.0" font-weight="bold" text-anchor="start" fill="#111" textLength="27.4" lengthAdjust="spacingAndGlyphs"  stroke="#111" stroke-width="0.18">VH20-IFNr</text>
<line x1="216.40" y1="246.20" x2="216.40" y2="305.40" stroke="#333" stroke-width="1.0" />
<line x1="213.80" y1="305.40" x2="216.40" y2="305.40" stroke="#333" stroke-width="0.75" />
<text x="212.9" y="307.756" font-family="'Liberation Sans', Arial, sans-serif" font-size="4.6" font-weight="bold" text-anchor="end" fill="#1a1a1a"  stroke="#1a1a1a" stroke-width="0.18">0</text>
<line x1="213.80" y1="290.60" x2="216.40" y2="290.60" stroke="#333" stroke-width="0.75" />
<text x="212.9" y="292.95599999999996" font-family="'Liberation Sans', Arial, sans-serif" font-size="4.6" font-weight="bold" text-anchor="end" fill="#1a1a1a"  stroke="#1a1a1a" stroke-width="0.18">200</text>
<line x1="213.80" y1="275.80" x2="216.40" y2="275.80" stroke="#333" stroke-width="0.75" />
<text x="212.9" y="278.15599999999995" font-family="'Liberation Sans', Arial, sans-serif" font-size="4.6" font-weight="bold" text-anchor="end" fill="#1a1a1a"  stroke="#1a1a1a" stroke-width="0.18">400</text>
<line x1="213.80" y1="261.00" x2="216.40" y2="261.00" stroke="#333" stroke-width="0.75" />
<text x="212.9" y="263.356" font-family="'Liberation Sans', Arial, sans-serif" font-size="4.6" font-weight="bold" text-anchor="end" fill="#1a1a1a"  stroke="#1a1a1a" stroke-width="0.18">600</text>
<line x1="213.80" y1="246.20" x2="216.40" y2="246.20" stroke="#333" stroke-width="0.75" />
<text x="212.9" y="248.55599999999998" font-family="'Liberation Sans', Arial, sans-serif" font-size="4.6" font-weight="bold" text-anchor="end" fill="#1a1a1a"  stroke="#1a1a1a" stroke-width="0.18">800</text>
<line x1="215.90" y1="305.40" x2="306.40" y2="305.40" stroke="#333" stroke-width="1.0" />
<line x1="215.90" y1="305.40" x2="215.90" y2="307.80" stroke="#333" stroke-width="0.75" />
<text x="215.9" y="313.0" font-family="'Liberation Sans', Arial, sans-serif" font-size="4.6" font-weight="bold" text-anchor="middle" fill="#1a1a1a"  stroke="#1a1a1a" stroke-width="0.18">0.5</text>
<line x1="233.90" y1="305.40" x2="233.90" y2="307.80" stroke="#333" stroke-width="0.75" />
<text x="233.9" y="313.0" font-family="'Liberation Sans', Arial, sans-serif" font-size="4.6" font-weight="bold" text-anchor="middle" fill="#1a1a1a"  stroke="#1a1a1a" stroke-width="0.18">1</text>
<line x1="251.90" y1="305.40" x2="251.90" y2="307.80" stroke="#333" stroke-width="0.75" />
<text x="251.9" y="313.0" font-family="'Liberation Sans', Arial, sans-serif" font-size="4.6" font-weight="bold" text-anchor="middle" fill="#1a1a1a"  stroke="#1a1a1a" stroke-width="0.18">2</text>
<line x1="269.90" y1="305.40" x2="269.90" y2="307.80" stroke="#333" stroke-width="0.75" />
<text x="269.9" y="313.0" font-family="'Liberation Sans', Arial, sans-serif" font-size="4.6" font-weight="bold" text-anchor="middle" fill="#1a1a1a"  stroke="#1a1a1a" stroke-width="0.18">4</text>
<line x1="287.90" y1="305.40" x2="287.90" y2="307.80" stroke="#333" stroke-width="0.75" />
<text x="287.9" y="313.0" font-family="'Liberation Sans', Arial, sans-serif" font-size="4.6" font-weight="bold" text-anchor="middle" fill="#1a1a1a"  stroke="#1a1a1a" stroke-width="0.18">8</text>
<line x1="305.90" y1="305.40" x2="305.90" y2="307.80" stroke="#333" stroke-width="0.75" />
<text x="305.9" y="313.0" font-family="'Liberation Sans', Arial, sans-serif" font-size="4.6" font-weight="bold" text-anchor="middle" fill="#1a1a1a"  stroke="#1a1a1a" stroke-width="0.18">16</text>
<text transform="translate(200.2,275.4) rotate(-90)" x="0" y="0" font-family="'Liberation Sans', Arial, sans-serif" font-size="5.0" font-weight="bold" text-anchor="middle" dominant-baseline="central" fill="#222" textLength="46.7" lengthAdjust="spacingAndGlyphs" stroke="#222" stroke-width="0.18">Concentratin pg/mL</text>
<text x="256.75" y="319.8" font-family="'Liberation Sans', Arial, sans-serif" font-size="5.2" font-weight="bold" text-anchor="start" fill="#1a1a1a" textLength="8.4" lengthAdjust="spacingAndGlyphs"  stroke="#1a1a1a" stroke-width="0.18">E:T</text>
<polyline points="233.90,303.55 251.90,303.33 269.90,303.55 287.90,303.55 305.90,303.77" fill="none" stroke="#6B6BE6" stroke-width="0.75"/>
<rect x="232.46" y="302.11" width="2.88" height="2.88" fill="#1010C8"/>
<rect x="250.46" y="301.89" width="2.88" height="2.88" fill="#1010C8"/>
<rect x="268.46" y="302.11" width="2.88" height="2.88" fill="#1010C8"/>
<rect x="286.46" y="302.11" width="2.88" height="2.88" fill="#1010C8"/>
<rect x="304.46" y="302.33" width="2.88" height="2.88" fill="#1010C8"/>
<polyline points="233.90,303.77 251.90,303.77 269.90,303.92 287.90,303.77 305.90,303.92" fill="none" stroke="#6B6BE6" stroke-width="0.75"/>
<circle cx="233.90" cy="303.77" r="1.38" fill="white" stroke="#1010C8" stroke-width="0.85"/>
<circle cx="251.90" cy="303.77" r="1.38" fill="white" stroke="#1010C8" stroke-width="0.85"/>
<circle cx="269.90" cy="303.92" r="1.38" fill="white" stroke="#1010C8" stroke-width="0.85"/>
<circle cx="287.90" cy="303.77" r="1.38" fill="white" stroke="#1010C8" stroke-width="0.85"/>
<circle cx="305.90" cy="303.92" r="1.38" fill="white" stroke="#1010C8" stroke-width="0.85"/>
<polyline points="233.90,303.92 251.90,304.29 269.90,304.29 287.90,304.29 305.90,302.81" fill="none" stroke="#F85050" stroke-width="0.75"/>
<circle cx="233.90" cy="303.92" r="1.35" fill="white" stroke="#F51414" stroke-width="0.9"/>
<circle cx="251.90" cy="304.29" r="1.35" fill="white" stroke="#F51414" stroke-width="0.9"/>
<circle cx="269.90" cy="304.29" r="1.35" fill="white" stroke="#F51414" stroke-width="0.9"/>
<circle cx="287.90" cy="304.29" r="1.35" fill="white" stroke="#F51414" stroke-width="0.9"/>
<circle cx="305.90" cy="302.81" r="1.35" fill="white" stroke="#F51414" stroke-width="0.9"/>
<polyline points="233.90,292.82 251.90,271.43 269.90,262.78 287.90,271.14 305.90,276.84" fill="none" stroke="#F85050" stroke-width="0.75"/>
<line x1="251.90" y1="274.76" x2="251.90" y2="267.59" stroke="#F85050" stroke-width="0.5" />
<line x1="250.70" y1="274.76" x2="253.10" y2="274.76" stroke="#F85050" stroke-width="0.5" />
<line x1="250.70" y1="267.59" x2="253.10" y2="267.59" stroke="#F85050" stroke-width="0.5" />
<line x1="269.90" y1="275.43" x2="269.90" y2="251.08" stroke="#F85050" stroke-width="0.5" />
<line x1="268.70" y1="275.43" x2="271.10" y2="275.43" stroke="#F85050" stroke-width="0.5" />
<line x1="268.70" y1="251.08" x2="271.10" y2="251.08" stroke="#F85050" stroke-width="0.5" />
<line x1="287.90" y1="273.43" x2="287.90" y2="269.14" stroke="#F85050" stroke-width="0.5" />
<line x1="286.70" y1="273.43" x2="289.10" y2="273.43" stroke="#F85050" stroke-width="0.5" />
<line x1="286.70" y1="269.14" x2="289.10" y2="269.14" stroke="#F85050" stroke-width="0.5" />
<line x1="305.90" y1="280.54" x2="305.90" y2="274.76" stroke="#F85050" stroke-width="0.5" />
<line x1="304.70" y1="280.54" x2="307.10" y2="280.54" stroke="#F85050" stroke-width="0.5" />
<line x1="304.70" y1="274.76" x2="307.10" y2="274.76" stroke="#F85050" stroke-width="0.5" />
<circle cx="233.90" cy="292.82" r="1.60" fill="#F51414" stroke="#F51414" stroke-width="0"/>
<circle cx="251.90" cy="271.43" r="1.60" fill="#F51414" stroke="#F51414" stroke-width="0"/>
<circle cx="269.90" cy="262.78" r="1.60" fill="#F51414" stroke="#F51414" stroke-width="0"/>
<circle cx="287.90" cy="271.14" r="1.60" fill="#F51414" stroke="#F51414" stroke-width="0"/>
<circle cx="305.90" cy="276.84" r="1.60" fill="#F51414" stroke="#F51414" stroke-width="0"/>
<line x1="310.70" y1="250.00" x2="316.70" y2="250.00" stroke="#F85050" stroke-width="0.7" />
<circle cx="313.70" cy="250.00" r="1.45" fill="#F51414" stroke="#F51414" stroke-width="0"/>
<text x="319.8" y="251.84" font-family="'Liberation Sans', Arial, sans-serif" font-size="5.1" font-weight="normal" text-anchor="start" fill="#1c1c1c" textLength="23.7" lengthAdjust="spacingAndGlyphs" stroke="#1c1c1c" stroke-width="0.1">VH20-ALK</text>
<line x1="310.70" y1="258.10" x2="316.70" y2="258.10" stroke="#F85050" stroke-width="0.7" />
<circle cx="313.70" cy="258.10" r="1.10" fill="white" stroke="#F51414" stroke-width="0.7"/>
<text x="319.8" y="259.94" font-family="'Liberation Sans', Arial, sans-serif" font-size="5.1" font-weight="normal" text-anchor="start" fill="#1c1c1c" textLength="24.3" lengthAdjust="spacingAndGlyphs" stroke="#1c1c1c" stroke-width="0.1">VH20-293T</text>
<line x1="310.70" y1="266.20" x2="316.70" y2="266.20" stroke="#6B6BE6" stroke-width="0.7" />
<rect x="312.39" y="264.89" width="2.61" height="2.61" fill="#1010C8"/>
<text x="319.8" y="268.04" font-family="'Liberation Sans', Arial, sans-serif" font-size="5.1" font-weight="normal" text-anchor="start" fill="#1c1c1c" textLength="22.7" lengthAdjust="spacingAndGlyphs" stroke="#1c1c1c" stroke-width="0.1">PanT-ALK</text>
<line x1="310.70" y1="274.30" x2="316.70" y2="274.30" stroke="#6B6BE6" stroke-width="0.7" />
<circle cx="313.70" cy="274.30" r="1.10" fill="white" stroke="#1010C8" stroke-width="0.7"/>
<text x="319.8" y="276.14" font-family="'Liberation Sans', Arial, sans-serif" font-size="5.1" font-weight="normal" text-anchor="start" fill="#1c1c1c" textLength="24.3" lengthAdjust="spacingAndGlyphs" stroke="#1c1c1c" stroke-width="0.1">PanT-293T</text>
<text x="445.85" y="234.9" font-family="'Liberation Sans', Arial, sans-serif" font-size="5.6" font-weight="bold" text-anchor="start" fill="#111" textLength="14.4" lengthAdjust="spacingAndGlyphs"  stroke="#111" stroke-width="0.18">TNFa</text>
<line x1="408.60" y1="243.12" x2="408.60" y2="302.40" stroke="#333" stroke-width="1.0" />
<line x1="406.00" y1="302.40" x2="408.60" y2="302.40" stroke="#333" stroke-width="0.75" />
<text x="405.1" y="304.756" font-family="'Liberation Sans', Arial, sans-serif" font-size="4.6" font-weight="bold" text-anchor="end" fill="#1a1a1a"  stroke="#1a1a1a" stroke-width="0.18">0</text>
<line x1="406.00" y1="282.64" x2="408.60" y2="282.64" stroke="#333" stroke-width="0.75" />
<text x="405.1" y="284.996" font-family="'Liberation Sans', Arial, sans-serif" font-size="4.6" font-weight="bold" text-anchor="end" fill="#1a1a1a"  stroke="#1a1a1a" stroke-width="0.18">2000</text>
<line x1="406.00" y1="262.88" x2="408.60" y2="262.88" stroke="#333" stroke-width="0.75" />
<text x="405.1" y="265.236" font-family="'Liberation Sans', Arial, sans-serif" font-size="4.6" font-weight="bold" text-anchor="end" fill="#1a1a1a"  stroke="#1a1a1a" stroke-width="0.18">4000</text>
<line x1="406.00" y1="243.12" x2="408.60" y2="243.12" stroke="#333" stroke-width="0.75" />
<text x="405.1" y="245.47599999999997" font-family="'Liberation Sans', Arial, sans-serif" font-size="4.6" font-weight="bold" text-anchor="end" fill="#1a1a1a"  stroke="#1a1a1a" stroke-width="0.18">6000</text>
<line x1="408.10" y1="302.40" x2="497.80" y2="302.40" stroke="#333" stroke-width="1.0" />
<line x1="408.30" y1="302.40" x2="408.30" y2="304.80" stroke="#333" stroke-width="0.75" />
<text x="408.3" y="310.05" font-family="'Liberation Sans', Arial, sans-serif" font-size="4.6" font-weight="bold" text-anchor="middle" fill="#1a1a1a"  stroke="#1a1a1a" stroke-width="0.18">0.5</text>
<line x1="426.10" y1="302.40" x2="426.10" y2="304.80" stroke="#333" stroke-width="0.75" />
<text x="426.1" y="310.05" font-family="'Liberation Sans', Arial, sans-serif" font-size="4.6" font-weight="bold" text-anchor="middle" fill="#1a1a1a"  stroke="#1a1a1a" stroke-width="0.18">1</text>
<line x1="443.90" y1="302.40" x2="443.90" y2="304.80" stroke="#333" stroke-width="0.75" />
<text x="443.90000000000003" y="310.05" font-family="'Liberation Sans', Arial, sans-serif" font-size="4.6" font-weight="bold" text-anchor="middle" fill="#1a1a1a"  stroke="#1a1a1a" stroke-width="0.18">2</text>
<line x1="461.70" y1="302.40" x2="461.70" y2="304.80" stroke="#333" stroke-width="0.75" />
<text x="461.70000000000005" y="310.05" font-family="'Liberation Sans', Arial, sans-serif" font-size="4.6" font-weight="bold" text-anchor="middle" fill="#1a1a1a"  stroke="#1a1a1a" stroke-width="0.18">4</text>
<line x1="479.50" y1="302.40" x2="479.50" y2="304.80" stroke="#333" stroke-width="0.75" />
<text x="479.5" y="310.05" font-family="'Liberation Sans', Arial, sans-serif" font-size="4.6" font-weight="bold" text-anchor="middle" fill="#1a1a1a"  stroke="#1a1a1a" stroke-width="0.18">8</text>
<line x1="497.30" y1="302.40" x2="497.30" y2="304.80" stroke="#333" stroke-width="0.75" />
<text x="497.3" y="310.05" font-family="'Liberation Sans', Arial, sans-serif" font-size="4.6" font-weight="bold" text-anchor="middle" fill="#1a1a1a"  stroke="#1a1a1a" stroke-width="0.18">16</text>
<text transform="translate(391.7,273.2) rotate(-90)" x="0" y="0" font-family="'Liberation Sans', Arial, sans-serif" font-size="5.0" font-weight="bold" text-anchor="middle" dominant-baseline="central" fill="#222" textLength="46.3" lengthAdjust="spacingAndGlyphs" stroke="#222" stroke-width="0.18">Concentratin pg/mL</text>
<text x="442.65" y="316.7" font-family="'Liberation Sans', Arial, sans-serif" font-size="4.9" font-weight="bold" text-anchor="start" fill="#1a1a1a" textLength="20.7" lengthAdjust="spacingAndGlyphs"  stroke="#1a1a1a" stroke-width="0.18">E:T ratio</text>
<polyline points="426.10,302.20 443.90,302.20 461.70,302.20 479.50,302.20 497.30,302.10" fill="none" stroke="#F85050" stroke-width="0.75"/>
<circle cx="426.10" cy="302.20" r="1.07" fill="white" stroke="#F51414" stroke-width="0.85"/>
<circle cx="443.90" cy="302.20" r="1.07" fill="white" stroke="#F51414" stroke-width="0.85"/>
<circle cx="461.70" cy="302.20" r="1.07" fill="white" stroke="#F51414" stroke-width="0.85"/>
<circle cx="479.50" cy="302.20" r="1.07" fill="white" stroke="#F51414" stroke-width="0.85"/>
<circle cx="497.30" cy="302.10" r="1.07" fill="white" stroke="#F51414" stroke-width="0.85"/>
<polyline points="426.10,302.10 443.90,302.10 461.70,302.00 479.50,301.81 497.30,301.31" fill="none" stroke="#6B6BE6" stroke-width="0.75"/>
<rect x="424.75" y="300.75" width="2.70" height="2.70" fill="#1010C8"/>
<rect x="442.55" y="300.75" width="2.70" height="2.70" fill="#1010C8"/>
<rect x="460.35" y="300.65" width="2.70" height="2.70" fill="#1010C8"/>
<rect x="478.15" y="300.46" width="2.70" height="2.70" fill="#1010C8"/>
<rect x="495.95" y="299.96" width="2.70" height="2.70" fill="#1010C8"/>
<polyline points="426.10,302.20 443.90,302.20 461.70,302.20 479.50,302.10 497.30,302.00" fill="none" stroke="#9A3A7A" stroke-width="0.75"/>
<circle cx="426.10" cy="302.20" r="1.25" fill="#3A1A8A" stroke="#3A1A8A" stroke-width="0"/>
<circle cx="443.90" cy="302.20" r="1.25" fill="#3A1A8A" stroke="#3A1A8A" stroke-width="0"/>
<circle cx="461.70" cy="302.20" r="1.25" fill="#3A1A8A" stroke="#3A1A8A" stroke-width="0"/>
<circle cx="479.50" cy="302.10" r="1.25" fill="#3A1A8A" stroke="#3A1A8A" stroke-width="0"/>
<circle cx="497.30" cy="302.00" r="1.25" fill="#3A1A8A" stroke="#3A1A8A" stroke-width="0"/>
<polyline points="426.10,269.30 443.90,257.20 461.70,251.20 479.50,249.11 497.30,253.00" fill="none" stroke="#F85050" stroke-width="0.75"/>
<circle cx="426.10" cy="269.30" r="1.60" fill="#F51414" stroke="#F51414" stroke-width="0"/>
<circle cx="443.90" cy="257.20" r="1.60" fill="#F51414" stroke="#F51414" stroke-width="0"/>
<circle cx="461.70" cy="251.20" r="1.60" fill="#F51414" stroke="#F51414" stroke-width="0"/>
<circle cx="479.50" cy="249.11" r="1.60" fill="#F51414" stroke="#F51414" stroke-width="0"/>
<circle cx="497.30" cy="253.00" r="1.60" fill="#F51414" stroke="#F51414" stroke-width="0"/>
<line x1="510.80" y1="247.00" x2="516.80" y2="247.00" stroke="#F85050" stroke-width="0.7" />
<circle cx="513.80" cy="247.00" r="1.45" fill="#F51414" stroke="#F51414" stroke-width="0"/>
<text x="520.8" y="248.84" font-family="'Liberation Sans', Arial, sans-serif" font-size="5.1" font-weight="normal" text-anchor="start" fill="#1c1c1c" stroke="#1c1c1c" stroke-width="0.1">VH20-ALK</text>
<line x1="510.80" y1="255.10" x2="516.80" y2="255.10" stroke="#F85050" stroke-width="0.7" />
<circle cx="513.80" cy="255.10" r="1.10" fill="white" stroke="#F51414" stroke-width="0.7"/>
<text x="520.8" y="256.94" font-family="'Liberation Sans', Arial, sans-serif" font-size="5.1" font-weight="normal" text-anchor="start" fill="#1c1c1c" stroke="#1c1c1c" stroke-width="0.1">VH20-293T</text>
<line x1="510.80" y1="263.30" x2="516.80" y2="263.30" stroke="#6B6BE6" stroke-width="0.7" />
<rect x="512.50" y="262.00" width="2.61" height="2.61" fill="#1010C8"/>
<text x="520.8" y="265.14" font-family="'Liberation Sans', Arial, sans-serif" font-size="5.1" font-weight="normal" text-anchor="start" fill="#1c1c1c" stroke="#1c1c1c" stroke-width="0.1">PanT-ALK</text>
<line x1="510.80" y1="271.10" x2="516.80" y2="271.10" stroke="#6B6BE6" stroke-width="0.7" />
<circle cx="513.80" cy="271.10" r="1.10" fill="white" stroke="#1010C8" stroke-width="0.7"/>
<text x="520.8" y="272.94" font-family="'Liberation Sans', Arial, sans-serif" font-size="5.1" font-weight="normal" text-anchor="start" fill="#1c1c1c" stroke="#1c1c1c" stroke-width="0.1">PanT-93T</text>
</svg>
</body></html>
